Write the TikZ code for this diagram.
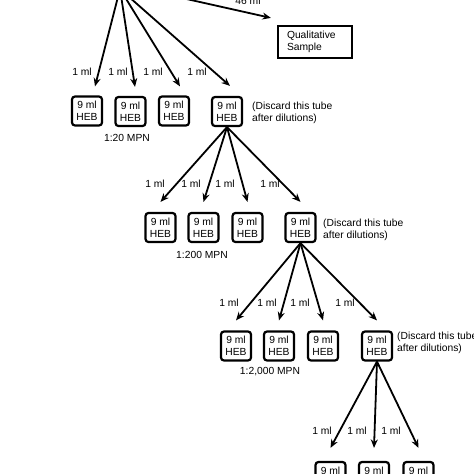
\documentclass[tikz,border=0pt]{standalone}
\usepackage{fontspec}
\setmainfont{Liberation Sans}
\usetikzlibrary{arrows.meta}
\begin{document}
\begin{tikzpicture}[x=1pt,y=-1pt,
 tube/.style={draw,line width=2.2pt,rounded corners=3pt,minimum width=30pt,minimum height=29pt,inner sep=0pt,align=center,font=\fontsize{10.3}{12}\selectfont},
 lbl/.style={font=\fontsize{10.3}{12}\selectfont,inner sep=0pt},
 arr/.style={-{Stealth[length=8.5pt,width=7pt]},line width=1.8pt},
 note/.style={lbl,align=left,anchor=west}]
\useasboundingbox (0,0) rectangle (474,474);
\clip (0,0) rectangle (474,474);
% sources above the picture
\coordinate (top) at (120,-11);
\coordinate (topq) at (124,-15);
% qualitative sample
\node[draw,line width=2.2pt,minimum width=74pt,minimum height=32pt,inner sep=0pt,text width=56pt,align=left,lbl] (qs) at (315,42) {Qualitative\\Sample};
\node[lbl] (l46) at (248,1) {46 ml};
\draw[arr] (topq) -- ([xshift=-6pt,yshift=7pt]qs.north west);
% level 1
\node[tube] (a1) at (87,111) {9 ml\\HEB};
\node[tube] (a2) at (130.5,111.5) {9 ml\\HEB};
\node[tube] (a3) at (174,111) {9 ml\\HEB};
\node[tube] (a4) at (227,111.5) {9 ml\\HEB};
\draw[arr] (top) -- ([xshift=8pt,yshift=9pt]a1.north);
\draw[arr] (top) -- ([xshift=4.5pt,yshift=9pt]a2.north);
\draw[arr] (top) -- ([xshift=6pt,yshift=9pt]a3.north);
\draw[arr] (top) -- ([xshift=3pt,yshift=10pt]a4.north);
\node[lbl] (m11) at (82,72) {1 ml};
\node[lbl] (m12) at (118,72) {1 ml};
\node[lbl] (m13) at (153,72) {1 ml};
\node[lbl] (m14) at (197,72) {1 ml};
\node[lbl] (p1) at (127,138) {1:20 MPN};
\node[note] (d1) at (252,112.5) {(Discard this tube\\after dilutions)};
% level 2
\node[tube] (b1) at (160.5,227.5) {9 ml\\HEB};
\node[tube] (b2) at (203.5,227.5) {9 ml\\HEB};
\node[tube] (b3) at (247.5,227.5) {9 ml\\HEB};
\node[tube] (b4) at (300.5,227.5) {9 ml\\HEB};
\foreach \t in {b1,b2,b3,b4}{\draw[arr] (a4.south) -- ([yshift=10pt]\t.north);}
\node[lbl] (m21) at (155,184) {1 ml};
\node[lbl] (m22) at (191,184) {1 ml};
\node[lbl] (m23) at (225,184) {1 ml};
\node[lbl] (m24) at (270,184) {1 ml};
\node[lbl] (p2) at (202,255) {1:200 MPN};
\node[note] (d2) at (323,229.5) {(Discard this tube\\after dilutions)};
% level 3
\node[tube] (c1) at (236,346) {9 ml\\HEB};
\node[tube] (c2) at (279,346) {9 ml\\HEB};
\node[tube] (c3) at (323,346) {9 ml\\HEB};
\node[tube] (c4) at (377,346) {9 ml\\HEB};
\foreach \t in {c1,c2,c3,c4}{\draw[arr] (b4.south) -- ([yshift=10pt]\t.north);}
\node[lbl] (m31) at (229,303) {1 ml};
\node[lbl] (m32) at (267,303) {1 ml};
\node[lbl] (m33) at (300,303) {1 ml};
\node[lbl] (m34) at (345,303) {1 ml};
\node[lbl] (p3) at (270,372) {1:2,000 MPN};
\node[note] (d3) at (397,343) {(Discard this tube\\after dilutions)};
% level 4
\node[tube] (e1) at (330.5,476.5) {9 ml\\HEB};
\node[tube] (e2) at (374,476.5) {9 ml\\HEB};
\node[tube] (e3) at (418.5,476.5) {9 ml\\HEB};
\foreach \t in {e1,e2,e3}{\draw[arr] (c4.south) -- ([yshift=13pt]\t.north);}
\node[lbl] (m41) at (322,431) {1 ml};
\node[lbl] (m42) at (357,431) {1 ml};
\node[lbl] (m43) at (391,431) {1 ml};
\end{tikzpicture}
\end{document}
